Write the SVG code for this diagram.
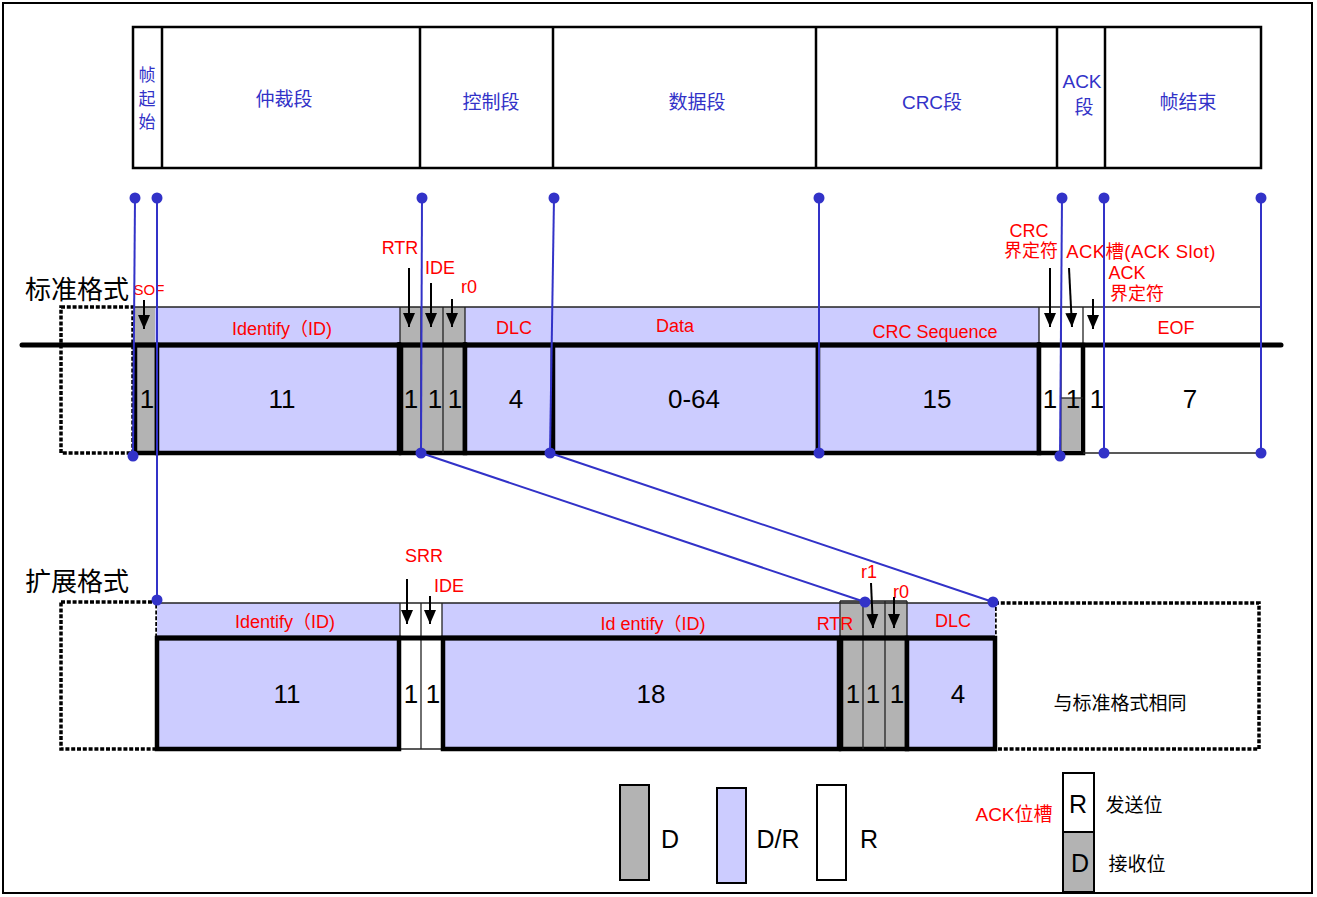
<svg xmlns="http://www.w3.org/2000/svg" width="1317" height="897" viewBox="0 0 1317 897">
<defs>
<marker id="ah" markerUnits="userSpaceOnUse" markerWidth="14" markerHeight="14" viewBox="0 -7 14 14" refX="14" refY="0" orient="auto">
<path d="M0,-6 L14,0 L0,6 z" fill="#000"/>
</marker>
<style>
.hdr{font-family:"Liberation Sans","Noto Sans CJK SC",sans-serif;font-size:19px;fill:#3232c8;text-anchor:middle}
.red{font-family:"Liberation Sans","Noto Sans CJK SC",sans-serif;font-size:18px;fill:#ff0000;text-anchor:middle}
.num{font-family:"Liberation Sans","Noto Sans CJK SC",sans-serif;font-size:26px;fill:#000;text-anchor:middle}
.blk{font-family:"Liberation Sans","Noto Sans CJK SC",sans-serif;font-size:19px;fill:#000;text-anchor:middle}
.big{font-family:"Noto Sans CJK SC","Liberation Sans",sans-serif;font-size:26px;fill:#000}
.lav{fill:#ccccff}
.gry{fill:#b3b3b3}
.wht{fill:#fff}
.thk{stroke:#000;stroke-width:4.5}
.thn{stroke:#222;stroke-width:1.3;fill:none}
.bus{stroke:#000;stroke-width:5;fill:none}
.dash{fill:none;stroke:#000;stroke-width:3.5;stroke-dasharray:4 1.8}
.arr{stroke:#000;stroke-width:2;fill:none;marker-end:url(#ah)}
.pin{stroke:#3232c8;stroke-width:2;fill:none}
.dot{fill:#3232c8}
</style>
</defs>
<rect x="0" y="0" width="1317" height="897" fill="#fff"/>
<rect x="3" y="3" width="1309" height="890" fill="none" stroke="#000" stroke-width="2"/>

<g id="header">
<rect x="133" y="27" width="1128" height="141" fill="#fff" stroke="#000" stroke-width="2.5"/>
<g stroke="#000" stroke-width="2.5">
<line x1="162" y1="27" x2="162" y2="168"/>
<line x1="420" y1="27" x2="420" y2="168"/>
<line x1="553" y1="27" x2="553" y2="168"/>
<line x1="816" y1="27" x2="816" y2="168"/>
<line x1="1057" y1="27" x2="1057" y2="168"/>
<line x1="1105" y1="27" x2="1105" y2="168"/>
</g>
<text class="hdr" x="147" y="81" style="font-size:17px">帧</text>
<text class="hdr" x="147" y="105" style="font-size:17px">起</text>
<text class="hdr" x="147" y="128" style="font-size:17px">始</text>
<text class="hdr" x="284" y="106">仲裁段</text>
<text class="hdr" x="491" y="109">控制段</text>
<text class="hdr" x="697" y="109">数据段</text>
<text class="hdr" x="932" y="109">CRC段</text>
<text class="hdr" x="1082" y="88">ACK</text>
<text class="hdr" x="1084" y="114">段</text>
<text class="hdr" x="1188" y="109">帧结束</text>
</g>

<g id="standard-frame">
<text class="big" x="25" y="299">标准格式</text>
<rect class="dash" x="61" y="307" width="72" height="146"/>
<rect class="lav" x="155" y="307" width="884" height="38"/>
<rect class="gry" x="134" y="307" width="21" height="38"/>
<rect class="gry" x="400" y="307" width="65" height="38"/>
<line class="thn" x1="133" y1="307" x2="1260" y2="307"/>
<g class="thn">
<line x1="400" y1="307" x2="400" y2="345"/>
<line x1="465" y1="307" x2="465" y2="345"/>
<line x1="1039" y1="307" x2="1039" y2="345"/>
<line x1="1061" y1="307" x2="1061" y2="453"/>
<line x1="1083" y1="307" x2="1083" y2="345"/>
</g>
<rect class="gry thk" x="135" y="345" width="22" height="108"/>
<rect class="lav thk" x="157" y="345" width="242" height="108"/>
<rect class="gry thk" x="401" y="345" width="64" height="108"/>
<rect class="lav thk" x="465" y="345" width="88" height="108"/>
<rect class="lav thk" x="553" y="345" width="265" height="108"/>
<rect class="lav thk" x="818" y="345" width="221" height="108"/>
<rect class="wht thk" x="1039" y="345" width="44" height="108"/>
<rect class="gry" x="1062" y="398" width="19" height="53"/>
<line class="thn" x1="1061" y1="398" x2="1083" y2="398"/>
<line class="thn" x1="1061" y1="345" x2="1061" y2="453"/>
<line class="thn" x1="421" y1="307" x2="421" y2="453"/>
<line class="thn" x1="443" y1="307" x2="443" y2="453"/>
<line class="thn" x1="1083" y1="453" x2="1260" y2="453"/>
<line class="bus" x1="22" y1="345" x2="1281" y2="345" stroke-linecap="round"/>
<circle cx="399" cy="345" r="3"/>
<circle cx="465" cy="345" r="3"/>
<circle cx="1039" cy="345" r="3"/>

<text class="red" x="149" y="295" style="font-size:15px">SOF</text>
<text class="red" x="400" y="254">RTR</text>
<text class="red" x="440" y="274">IDE</text>
<text class="red" x="469" y="293">r0</text>
<text class="red" x="282" y="335">Identify（ID)</text>
<text class="red" x="514" y="334">DLC</text>
<text class="red" x="675" y="332">Data</text>
<text class="red" x="935" y="338">CRC Sequence</text>
<text class="red" x="1176" y="334">EOF</text>
<text class="red" x="1029" y="237">CRC</text>
<text class="red" x="1031" y="257">界定符</text>
<text class="red" x="1141" y="258" style="font-size:18.5px;letter-spacing:0.4px">ACK槽(ACK Slot)</text>
<text class="red" x="1127" y="279">ACK</text>
<text class="red" x="1137" y="300">界定符</text>

<line class="arr" x1="144" y1="300" x2="144" y2="329"/>
<line class="arr" x1="409" y1="268" x2="409" y2="327"/>
<line class="arr" x1="431" y1="283" x2="431" y2="327"/>
<line class="arr" x1="452" y1="299" x2="452" y2="327"/>
<line class="arr" x1="1050" y1="268" x2="1050" y2="327"/>
<line class="arr" x1="1069" y1="268" x2="1072" y2="327"/>
<line class="arr" x1="1093" y1="299" x2="1093" y2="329"/>

<text class="num" x="147" y="408">1</text>
<text class="num" x="282" y="408">11</text>
<text class="num" x="411" y="408">1</text>
<text class="num" x="435" y="408">1</text>
<text class="num" x="455" y="408">1</text>
<text class="num" x="516" y="408">4</text>
<text class="num" x="694" y="408">0-64</text>
<text class="num" x="937" y="408">15</text>
<text class="num" x="1050" y="408">1</text>
<text class="num" x="1073" y="408">1</text>
<text class="num" x="1097" y="408">1</text>
<text class="num" x="1190" y="408">7</text>
</g>

<g id="extended-frame">
<text class="big" x="25" y="591">扩展格式</text>
<rect class="dash" x="61" y="602" width="96" height="147"/>
<rect class="dash" x="995" y="603" width="264" height="146"/>
<rect class="lav" x="157" y="603" width="243" height="35"/>
<rect class="lav" x="442" y="603" width="398" height="35"/>
<rect class="gry" x="840" y="601" width="67" height="37"/>
<rect class="lav" x="907" y="603" width="88" height="35"/>
<line class="thn" x1="157" y1="603" x2="995" y2="603"/>
<line class="thn" x1="840" y1="601" x2="907" y2="601"/>
<g class="thn">
<line x1="400" y1="603" x2="400" y2="749"/>
<line x1="421" y1="603" x2="421" y2="749"/>
<line x1="442" y1="603" x2="442" y2="749"/>
<line x1="840" y1="601" x2="840" y2="638"/>
<line x1="907" y1="601" x2="907" y2="638"/>
<line x1="400" y1="749" x2="442" y2="749"/>
</g>
<rect class="lav thk" x="157" y="638" width="242" height="111"/>
<rect class="lav thk" x="443" y="638" width="396" height="111"/>
<rect class="gry thk" x="841" y="638" width="66" height="111"/>
<rect class="lav thk" x="907" y="638" width="88" height="111"/>
<line class="thn" x1="863" y1="601" x2="863" y2="749"/>
<line class="thn" x1="885" y1="601" x2="885" y2="749"/>
<line class="bus" x1="157" y1="638" x2="995" y2="638"/>

<text class="red" x="424" y="562">SRR</text>
<text class="red" x="449" y="592">IDE</text>
<text class="red" x="285" y="628">Identify（ID)</text>
<text class="red" x="653" y="630">Id entify（ID)</text>
<text class="red" x="835" y="630">RTR</text>
<text class="red" x="869" y="578">r1</text>
<text class="red" x="901" y="598">r0</text>
<text class="red" x="953" y="627">DLC</text>

<line class="arr" x1="407" y1="579" x2="407" y2="624"/>
<line class="arr" x1="430" y1="596" x2="430" y2="624"/>
<line class="arr" x1="871" y1="583" x2="873" y2="628"/>
<line class="arr" x1="894" y1="597" x2="894" y2="628"/>

<text class="num" x="287" y="703">11</text>
<text class="num" x="411" y="703">1</text>
<text class="num" x="433" y="703">1</text>
<text class="num" x="651" y="703">18</text>
<text class="num" x="853" y="703">1</text>
<text class="num" x="873" y="703">1</text>
<text class="num" x="897" y="703">1</text>
<text class="num" x="958" y="703">4</text>
<text class="blk" x="1120" y="710">与标准格式相同</text>
</g>

<g id="connectors">
<line class="pin" x1="135" y1="198" x2="133" y2="456"/>
<line class="pin" x1="157" y1="198" x2="157" y2="600"/>
<line class="pin" x1="422" y1="198" x2="421" y2="453"/>
<line class="pin" x1="421" y1="453" x2="865" y2="602"/>
<line class="pin" x1="554" y1="198" x2="550" y2="453"/>
<line class="pin" x1="550" y1="453" x2="993" y2="602"/>
<line class="pin" x1="819" y1="198" x2="819" y2="453"/>
<line class="pin" x1="1062" y1="198" x2="1060" y2="456"/>
<line class="pin" x1="1104" y1="198" x2="1104" y2="453"/>
<line class="pin" x1="1261" y1="198" x2="1261" y2="453"/>
<g class="dot">
<circle cx="135" cy="198" r="5.5"/>
<circle cx="157" cy="198" r="5.5"/>
<circle cx="422" cy="198" r="5.5"/>
<circle cx="554" cy="198" r="5.5"/>
<circle cx="819" cy="198" r="5.5"/>
<circle cx="1062" cy="198" r="5.5"/>
<circle cx="1104" cy="198" r="5.5"/>
<circle cx="1261" cy="198" r="5.5"/>
<circle cx="133" cy="456" r="5.5"/>
<circle cx="421" cy="453" r="5.5"/>
<circle cx="550" cy="453" r="5.5"/>
<circle cx="819" cy="453" r="5.5"/>
<circle cx="1060" cy="456" r="5.5"/>
<circle cx="1104" cy="453" r="5.5"/>
<circle cx="1261" cy="453" r="5.5"/>
<circle cx="157" cy="600" r="5.5"/>
<circle cx="865" cy="602" r="5.5"/>
<circle cx="993" cy="602" r="5.5"/>
</g>
</g>

<g id="legend">
<rect class="gry" x="620" y="785" width="29" height="95" stroke="#000" stroke-width="2"/>
<text class="num" x="670" y="848" style="font-size:25px">D</text>
<rect class="lav" x="717" y="788" width="29" height="95" stroke="#000" stroke-width="2"/>
<text class="num" x="778" y="848" style="font-size:25px">D/R</text>
<rect class="wht" x="817" y="785" width="29" height="95" stroke="#000" stroke-width="2"/>
<text class="num" x="869" y="848" style="font-size:25px">R</text>
<text class="red" x="1014" y="821" style="font-size:19px">ACK位槽</text>
<rect class="wht" x="1063" y="773" width="31" height="59" stroke="#000" stroke-width="2"/>
<rect class="gry" x="1063" y="832" width="31" height="60" stroke="#000" stroke-width="2"/>
<text class="num" x="1078" y="813" style="font-size:25px">R</text>
<text class="num" x="1080" y="872" style="font-size:25px">D</text>
<text class="blk" x="1134" y="812">发送位</text>
<text class="blk" x="1137" y="871">接收位</text>
</g>
</svg>
